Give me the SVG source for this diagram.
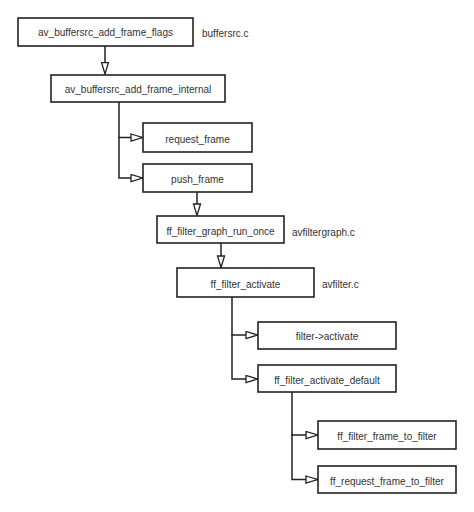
<svg xmlns="http://www.w3.org/2000/svg" width="474" height="512" viewBox="0 0 474 512">
<defs>
<marker id="arr" markerUnits="userSpaceOnUse" markerWidth="14" markerHeight="10" refX="12.5" refY="4.5" orient="auto">
<path d="M1,1 L12.5,4.5 L1,8 Z" fill="#fff" stroke="#222" stroke-width="1.3"/>
</marker>
<style>
.box{fill:#fff;stroke:#222;stroke-width:1.6}
.t{font-family:"Liberation Sans","Noto Sans",sans-serif;font-size:10px;fill:#333;text-anchor:middle;dominant-baseline:central}
.l{font-family:"Liberation Sans","Noto Sans",sans-serif;font-size:10px;fill:#333;dominant-baseline:central}
.c{fill:none;stroke:#222;stroke-width:1.5}
</style>
</defs>
<rect width="474" height="512" fill="#fff"/>
<g id="connectors">
<path class="c" d="M105,46 V74" marker-end="url(#arr)"/>
<path class="c" d="M119,102 V137.5 H142.5" marker-end="url(#arr)"/>
<path class="c" d="M119,137 V178 H142.5" marker-end="url(#arr)"/>
<path class="c" d="M197,192 V215.5" marker-end="url(#arr)"/>
<path class="c" d="M221,243 V267.5" marker-end="url(#arr)"/>
<path class="c" d="M232,297 V335 H257.5" marker-end="url(#arr)"/>
<path class="c" d="M232,334 V379 H257.5" marker-end="url(#arr)"/>
<path class="c" d="M292,392 V435 H317.5" marker-end="url(#arr)"/>
<path class="c" d="M292,434 V479.5 H317.5" marker-end="url(#arr)"/>
</g>
<g id="n1"><rect class="box" x="18" y="18" width="175" height="28"/><text class="t" x="105.5" y="32.5">av_buffersrc_add_frame_flags</text></g>
<g id="lbl1"><text class="l" x="202" y="33.5">buffersrc.c</text></g>
<g id="n2"><rect class="box" x="51" y="75" width="174" height="27"/><text class="t" x="138" y="89">av_buffersrc_add_frame_internal</text></g>
<g id="n3"><rect class="box" x="143" y="123" width="109" height="29"/><text class="t" x="197.5" y="139">request_frame</text></g>
<g id="n4"><rect class="box" x="143" y="164" width="109" height="28"/><text class="t" x="197.5" y="179">push_frame</text></g>
<g id="n5"><rect class="box" x="157" y="216" width="127" height="27"/><text class="t" x="220.5" y="231">ff_filter_graph_run_once</text></g>
<g id="lbl2"><text class="l" x="292" y="232">avfiltergraph.c</text></g>
<g id="n6"><rect class="box" x="177" y="268" width="137" height="29"/><text class="t" x="245.5" y="284">ff_filter_activate</text></g>
<g id="lbl3"><text class="l" x="322" y="284.5">avfilter.c</text></g>
<g id="n7"><rect class="box" x="258" y="322" width="138" height="27"/><text class="t" x="327" y="336.5">filter-&gt;activate</text></g>
<g id="n8"><rect class="box" x="258" y="365" width="138" height="27"/><text class="t" x="327" y="380">ff_filter_activate_default</text></g>
<g id="n9"><rect class="box" x="318" y="421" width="138" height="28"/><text class="t" x="387" y="436">ff_filter_frame_to_filter</text></g>
<g id="n10"><rect class="box" x="318" y="466" width="138" height="27"/><text class="t" x="387" y="481">ff_request_frame_to_filter</text></g>
</svg>
